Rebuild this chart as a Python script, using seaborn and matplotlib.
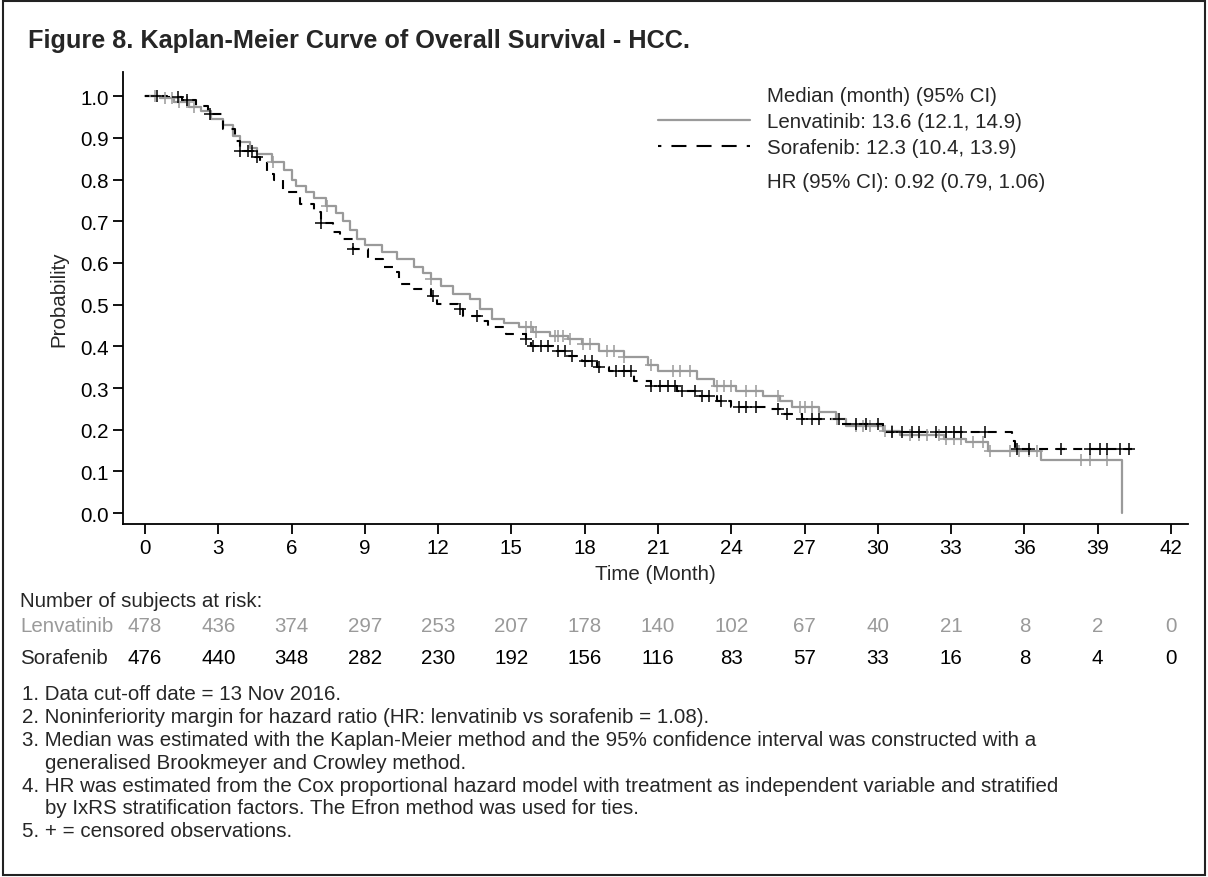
"""
Kaplan-Meier curve of overall survival (HCC) - Lenvatinib vs Sorafenib
"""
import numpy as np
import pandas as pd
import matplotlib
matplotlib.use("Agg")
import matplotlib.pyplot as plt
from matplotlib.patches import Rectangle
import seaborn as sns

# --- step points (month, survival) ---
LEN_T = [0, 0.6, 1.2, 1.8, 2.3, 2.7, 3.2, 3.6, 3.9, 4.3, 4.6, 5.2, 5.7, 6.0, 6.2,
         6.6, 6.9, 7.4, 7.8, 8.1, 8.4, 8.7, 9.0, 9.7, 10.3, 11.0, 11.4, 11.7, 12.1,
         12.6, 13.3, 13.7, 14.2, 14.7, 15.3, 15.9, 16.6, 17.3, 17.9, 18.6, 19.6,
         20.6, 21.0, 22.6, 23.3, 24.2, 25.3, 26.0, 26.5, 27.6, 28.3, 28.7, 30.2,
         30.9, 32.7, 33.6, 34.5, 36.7, 40.0]
LEN_S = [1.0, 0.995, 0.985, 0.975, 0.965, 0.945, 0.93, 0.905, 0.89, 0.875, 0.861,
         0.842, 0.822, 0.80, 0.784, 0.77, 0.757, 0.737, 0.72, 0.70, 0.68, 0.657,
         0.642, 0.626, 0.609, 0.59, 0.575, 0.561, 0.545, 0.525, 0.513, 0.49, 0.466,
         0.455, 0.446, 0.434, 0.425, 0.418, 0.405, 0.388, 0.375, 0.355, 0.341,
         0.322, 0.305, 0.293, 0.281, 0.269, 0.254, 0.242, 0.225, 0.209, 0.197,
         0.188, 0.178, 0.170, 0.149, 0.127, 0.0]

SOR_T = [0, 0.9, 1.5, 2.1, 2.6, 3.2, 3.7, 3.9, 4.5, 4.7, 5.0, 5.3, 5.65, 6.35, 6.9,
         7.2, 7.7, 8.0, 8.5, 9.15, 9.75, 10.2, 10.4, 11.0, 11.7, 11.95, 12.8, 13.0,
         13.7, 14.05, 14.8, 15.6, 15.8, 16.7, 17.3, 17.9, 18.5, 19.0, 20.0, 20.7,
         21.8, 22.7, 23.4, 24.0, 25.6, 26.1, 26.9, 28.5, 30.2, 35.5, 35.6, 40.4]
SOR_S = [1.0, 0.997, 0.99, 0.976, 0.957, 0.921, 0.892, 0.868, 0.855, 0.844, 0.813,
         0.80, 0.77, 0.741, 0.722, 0.695, 0.674, 0.657, 0.633, 0.609, 0.59, 0.578,
         0.549, 0.537, 0.52, 0.501, 0.489, 0.472, 0.46, 0.446, 0.429, 0.417, 0.40,
         0.389, 0.377, 0.365, 0.35, 0.341, 0.317, 0.305, 0.293, 0.281, 0.269, 0.254,
         0.25, 0.237, 0.225, 0.213, 0.194, 0.173, 0.153, 0.153]

# censored observations (month)
LEN_CENS = [0.4, 0.8, 1.1, 1.4, 1.7, 2.0, 5.25, 7.45, 11.7, 15.6, 15.8, 16.0, 16.8,
            16.9, 17.1, 17.4, 17.95, 18.2, 18.9, 19.2, 19.6, 20.7, 21.6, 21.9, 22.3,
            23.4, 23.7, 24.0, 24.6, 25.0, 25.9, 26.8, 27.0, 27.3, 28.35, 29.1, 29.4,
            29.7, 30.3, 30.6, 31.3, 31.7, 32.0, 32.5, 32.8, 33.1, 33.4, 33.9, 34.3,
            34.6, 35.4, 35.8, 36.2, 36.5, 38.3, 38.7, 39.4]
SOR_CENS = [0.5, 1.35, 1.7, 2.66, 3.9, 4.2, 4.4, 4.6, 7.2, 8.5, 11.8, 12.9, 13.6,
            15.6, 15.9, 16.2, 16.5, 16.9, 17.2, 17.5, 18.0, 18.3, 18.6, 19.3, 19.6,
            19.9, 20.7, 21.1, 21.4, 21.7, 22.0, 22.5, 22.8, 23.1, 23.6, 24.3, 24.6,
            25.0, 25.9, 26.3, 26.9, 27.3, 27.6, 28.4, 29.1, 29.5, 30.0, 30.6, 31.0,
            31.4, 31.7, 32.4, 32.8, 33.1, 33.4, 34.4, 35.7, 36.2, 37.5, 38.7, 39.1,
            39.4, 39.9, 40.3]

RISK_TIMES = list(range(0, 43, 3))
LEN_RISK = [478, 436, 374, 297, 253, 207, 178, 140, 102, 67, 40, 21, 8, 2, 0]
SOR_RISK = [476, 440, 348, 282, 230, 192, 156, 116, 83, 57, 33, 16, 8, 4, 0]

FOOTNOTES = [
    "1. Data cut-off date = 13 Nov 2016.",
    "2. Noninferiority margin for hazard ratio (HR: lenvatinib vs sorafenib = 1.08).",
    "3. Median was estimated with the Kaplan-Meier method and the 95% confidence interval was constructed with a",
    "    generalised Brookmeyer and Crowley method.",
    "4. HR was estimated from the Cox proportional hazard model with treatment as independent variable and stratified",
    "    by IxRS stratification factors. The Efron method was used for ties.",
    "5. + = censored observations.",
]

GRAY = "#9a9a9a"
FS = 14.8
# dash lengths are in linewidth units (points), so px = units * lw * 1.389
DASH = (0, (4.3, 3.9))
LEG_DASH = (5.6, (7.2, 4.85))

sns.set_style("ticks")
plt.rcParams["font.family"] = ["Liberation Sans", "DejaVu Sans"]


def censor_points(times, step_t, step_s):
    idx = np.searchsorted(step_t, times, side="right") - 1
    return pd.DataFrame({"t": times, "s": np.asarray(step_s)[idx]})


W, H = 1208, 878
fig = plt.figure(figsize=(W / 100, H / 100), dpi=100)
ax = fig.add_axes([123 / W, 1 - 525 / H, (1188 - 123) / W, (525 - 73) / H])

len_df = pd.DataFrame({"t": LEN_T, "s": LEN_S})
sor_df = pd.DataFrame({"t": SOR_T, "s": SOR_S})

sns.lineplot(data=len_df, x="t", y="s", ax=ax, color=GRAY, lw=1.6,
             drawstyle="steps-post", estimator=None, sort=False)
sns.lineplot(data=sor_df, x="t", y="s", ax=ax, color="black", lw=1.5,
             drawstyle="steps-post", estimator=None, sort=False, linestyle=DASH)

lc = censor_points(LEN_CENS, LEN_T, LEN_S)
sc = censor_points(SOR_CENS, SOR_T, SOR_S)
ax.plot(lc["t"], lc["s"], ls="none", marker="+", ms=8, mew=1.1, color=GRAY)
ax.plot(sc["t"], sc["s"], ls="none", marker="+", ms=8, mew=1.1, color="black")

ax.set_xlim(-0.9, 42.7)
ax.set_ylim(-0.026, 1.058)
ax.set_xticks(RISK_TIMES)
ax.set_yticks(np.round(np.arange(0, 1.01, 0.1), 1))
ax.set_yticklabels([f"{v:.1f}" for v in np.arange(0, 1.01, 0.1)])
ax.tick_params(axis="both", labelsize=FS, length=7, width=1.3, direction="out",
               colors="black", pad=3)
for side in ["top", "right"]:
    ax.spines[side].set_visible(False)
for side in ["left", "bottom"]:
    ax.spines[side].set_linewidth(1.3)
    ax.spines[side].set_color("black")
ax.set_xlabel("Time (Month)", fontsize=FS, labelpad=5)
ax.set_ylabel("Probability", fontsize=FS, labelpad=9)

# legend (manual)
fx = lambda x: x / W
fy = lambda y: 1 - y / H
fig.text(fx(767), fy(97), "Median (month) (95% CI)", fontsize=FS, va="center")
fig.text(fx(767), fy(122), "Lenvatinib: 13.6 (12.1, 14.9)", fontsize=FS, va="center")
fig.text(fx(767), fy(148), "Sorafenib: 12.3 (10.4, 13.9)", fontsize=FS, va="center")
fig.text(fx(767), fy(182), "HR (95% CI): 0.92 (0.79, 1.06)", fontsize=FS, va="center")
fig.add_artist(plt.Line2D([fx(658), fx(750)], [fy(121), fy(121)], color=GRAY, lw=1.6))
fig.add_artist(plt.Line2D([fx(658), fx(750)], [fy(147), fy(147)], color="black",
                          lw=1.5, linestyle=LEG_DASH))

# title
fig.text(fx(28), fy(41), "Figure 8. Kaplan-Meier Curve of Overall Survival - HCC.",
         fontsize=18.2, fontweight="bold", va="center")

# at-risk table
fig.text(fx(20), fy(602), "Number of subjects at risk:", fontsize=FS, va="center")
fig.text(fx(20), fy(627), "Lenvatinib", fontsize=FS, va="center", color=GRAY)
fig.text(fx(20), fy(659), "Sorafenib", fontsize=FS, va="center")
xt = ax.get_xaxis_transform()
ax_h = 525 - 73
for t, a, b in zip(RISK_TIMES, LEN_RISK, SOR_RISK):
    ax.text(t, (525 - 627) / ax_h, str(a), transform=xt, ha="center", va="center",
            fontsize=FS, color=GRAY, clip_on=False)
    ax.text(t, (525 - 659) / ax_h, str(b), transform=xt, ha="center", va="center",
            fontsize=FS, color="black", clip_on=False)

# footnotes
for i, line in enumerate(FOOTNOTES):
    fig.text(fx(22), fy(695 + i * 22.8), line, fontsize=FS, va="center")

# figure border
fig.add_artist(Rectangle((fx(3), fy(876)), fx(1205) - fx(3), fy(2) - fy(876),
                         transform=fig.transFigure, fill=False, lw=1.5,
                         edgecolor="#222222"))

fig.savefig("out.png", dpi=100)
